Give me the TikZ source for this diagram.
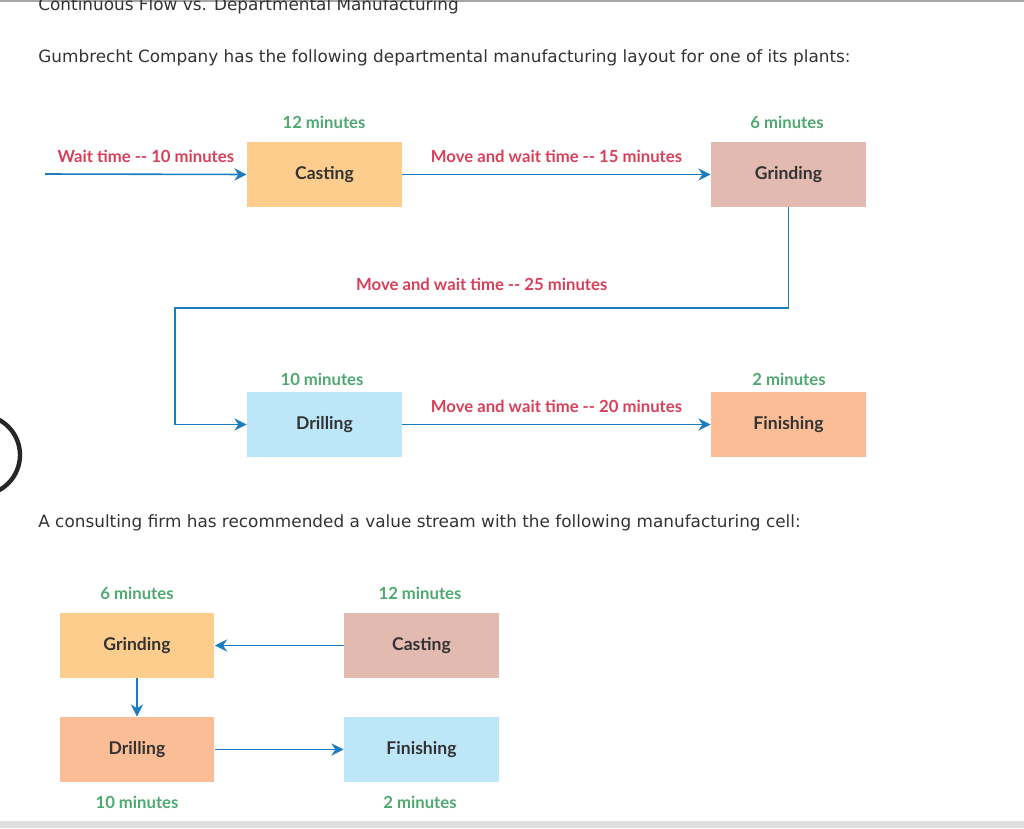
\documentclass[tikz,border=0pt]{standalone}
\usepackage{fontspec}
\setmainfont{DejaVu Sans}
\newfontfamily\lbl{Lato}
\usetikzlibrary{arrows.meta}
\definecolor{flow}{HTML}{1B7DC0}
\definecolor{wait}{HTML}{D8405A}
\definecolor{mins}{HTML}{4FA870}
\definecolor{boxor}{HTML}{FDCD8E}
\definecolor{boxpk}{HTML}{E2BAB0}
\definecolor{boxbl}{HTML}{BDE6F9}
\definecolor{boxpe}{HTML}{FBBD95}
\definecolor{body}{HTML}{333333}
\tikzset{
  dept/.style={minimum width=3.1cm, minimum height=1.3cm, inner sep=0pt, font=\lbl\fontsize{10}{12}\selectfont\bfseries, text=black!80},
  mins/.style={font=\lbl\fontsize{9.5}{11}\selectfont\bfseries, text=mins},
  lab/.style={font=\lbl\fontsize{9.5}{11}\selectfont\bfseries, text=wait},
  txt/.style={anchor=west, font=\fontsize{9.6}{11}\selectfont, text=body, inner sep=0pt},
  flw/.style={flow, line width=0.9pt, -{Stealth[length=7pt,width=7pt]}}
}
\begin{document}
\begin{tikzpicture}[x=0.02cm, y=-0.02cm]
\useasboundingbox (0,0) rectangle (1024,828);
\draw[gray!70, line width=1pt] (0,1) -- (1024,1);
\fill[gray!25] (0,821) rectangle (1024,828);
\node[txt] (title) at (38,6) {Continuous Flow vs. Departmental Manufacturing};
\node[txt] (intro) at (38,58) {Gumbrecht Company has the following departmental manufacturing layout for one of its plants:};
\node[txt] (cons) at (38,523) {A consulting firm has recommended a value stream with the following manufacturing cell:};
\draw[black!85, line width=2.5pt] (-20,455) circle (40);
% departmental layout
\node[dept, fill=boxor] (cast) at (324.5,174.5) {Casting};
\node[dept, fill=boxpk] (grind) at (788.5,174.5) {Grinding};
\node[dept, fill=boxbl] (drill) at (324.5,424.5) {Drilling};
\node[dept, fill=boxpe] (fin) at (788.5,424.5) {Finishing};
\node[mins] (m1) at (324,122) {12 minutes};
\node[mins] (m2) at (787,122) {6 minutes};
\node[mins] (m3) at (322,379) {10 minutes};
\node[mins] (m4) at (789,379) {2 minutes};
\coordinate (start) at (45,174);
\draw[flw] (start) -- (cast.west) node[lab, pos=0.5, above=3pt] {Wait time -- 10 minutes};
\draw[flw] (cast) -- (grind) node[lab, pos=0.5, above=3pt] {Move and wait time -- 15 minutes};
\draw[flw] (grind.south) |- (175,308) node[lab, pos=0.75, above=6pt] {Move and wait time -- 25 minutes} |- (drill.west);
\draw[flw] (drill) -- (fin) node[lab, pos=0.5, above=3pt] {Move and wait time -- 20 minutes};
% manufacturing cell
\node[dept, fill=boxor] (cgrind) at (137,645.5) {Grinding};
\node[dept, fill=boxpk] (ccast) at (421.5,645.5) {Casting};
\node[dept, fill=boxpe] (cdrill) at (137,749.5) {Drilling};
\node[dept, fill=boxbl] (cfin) at (421.5,749.5) {Finishing};
\node[mins] (c1) at (137,593) {6 minutes};
\node[mins] (c2) at (420,593) {12 minutes};
\node[mins] (c3) at (137,802) {10 minutes};
\node[mins] (c4) at (420,802) {2 minutes};
\draw[flw] (ccast) -- (cgrind);
\draw[flw] (cgrind) -- (cdrill);
\draw[flw] (cdrill) -- (cfin);
\end{tikzpicture}
\end{document}
